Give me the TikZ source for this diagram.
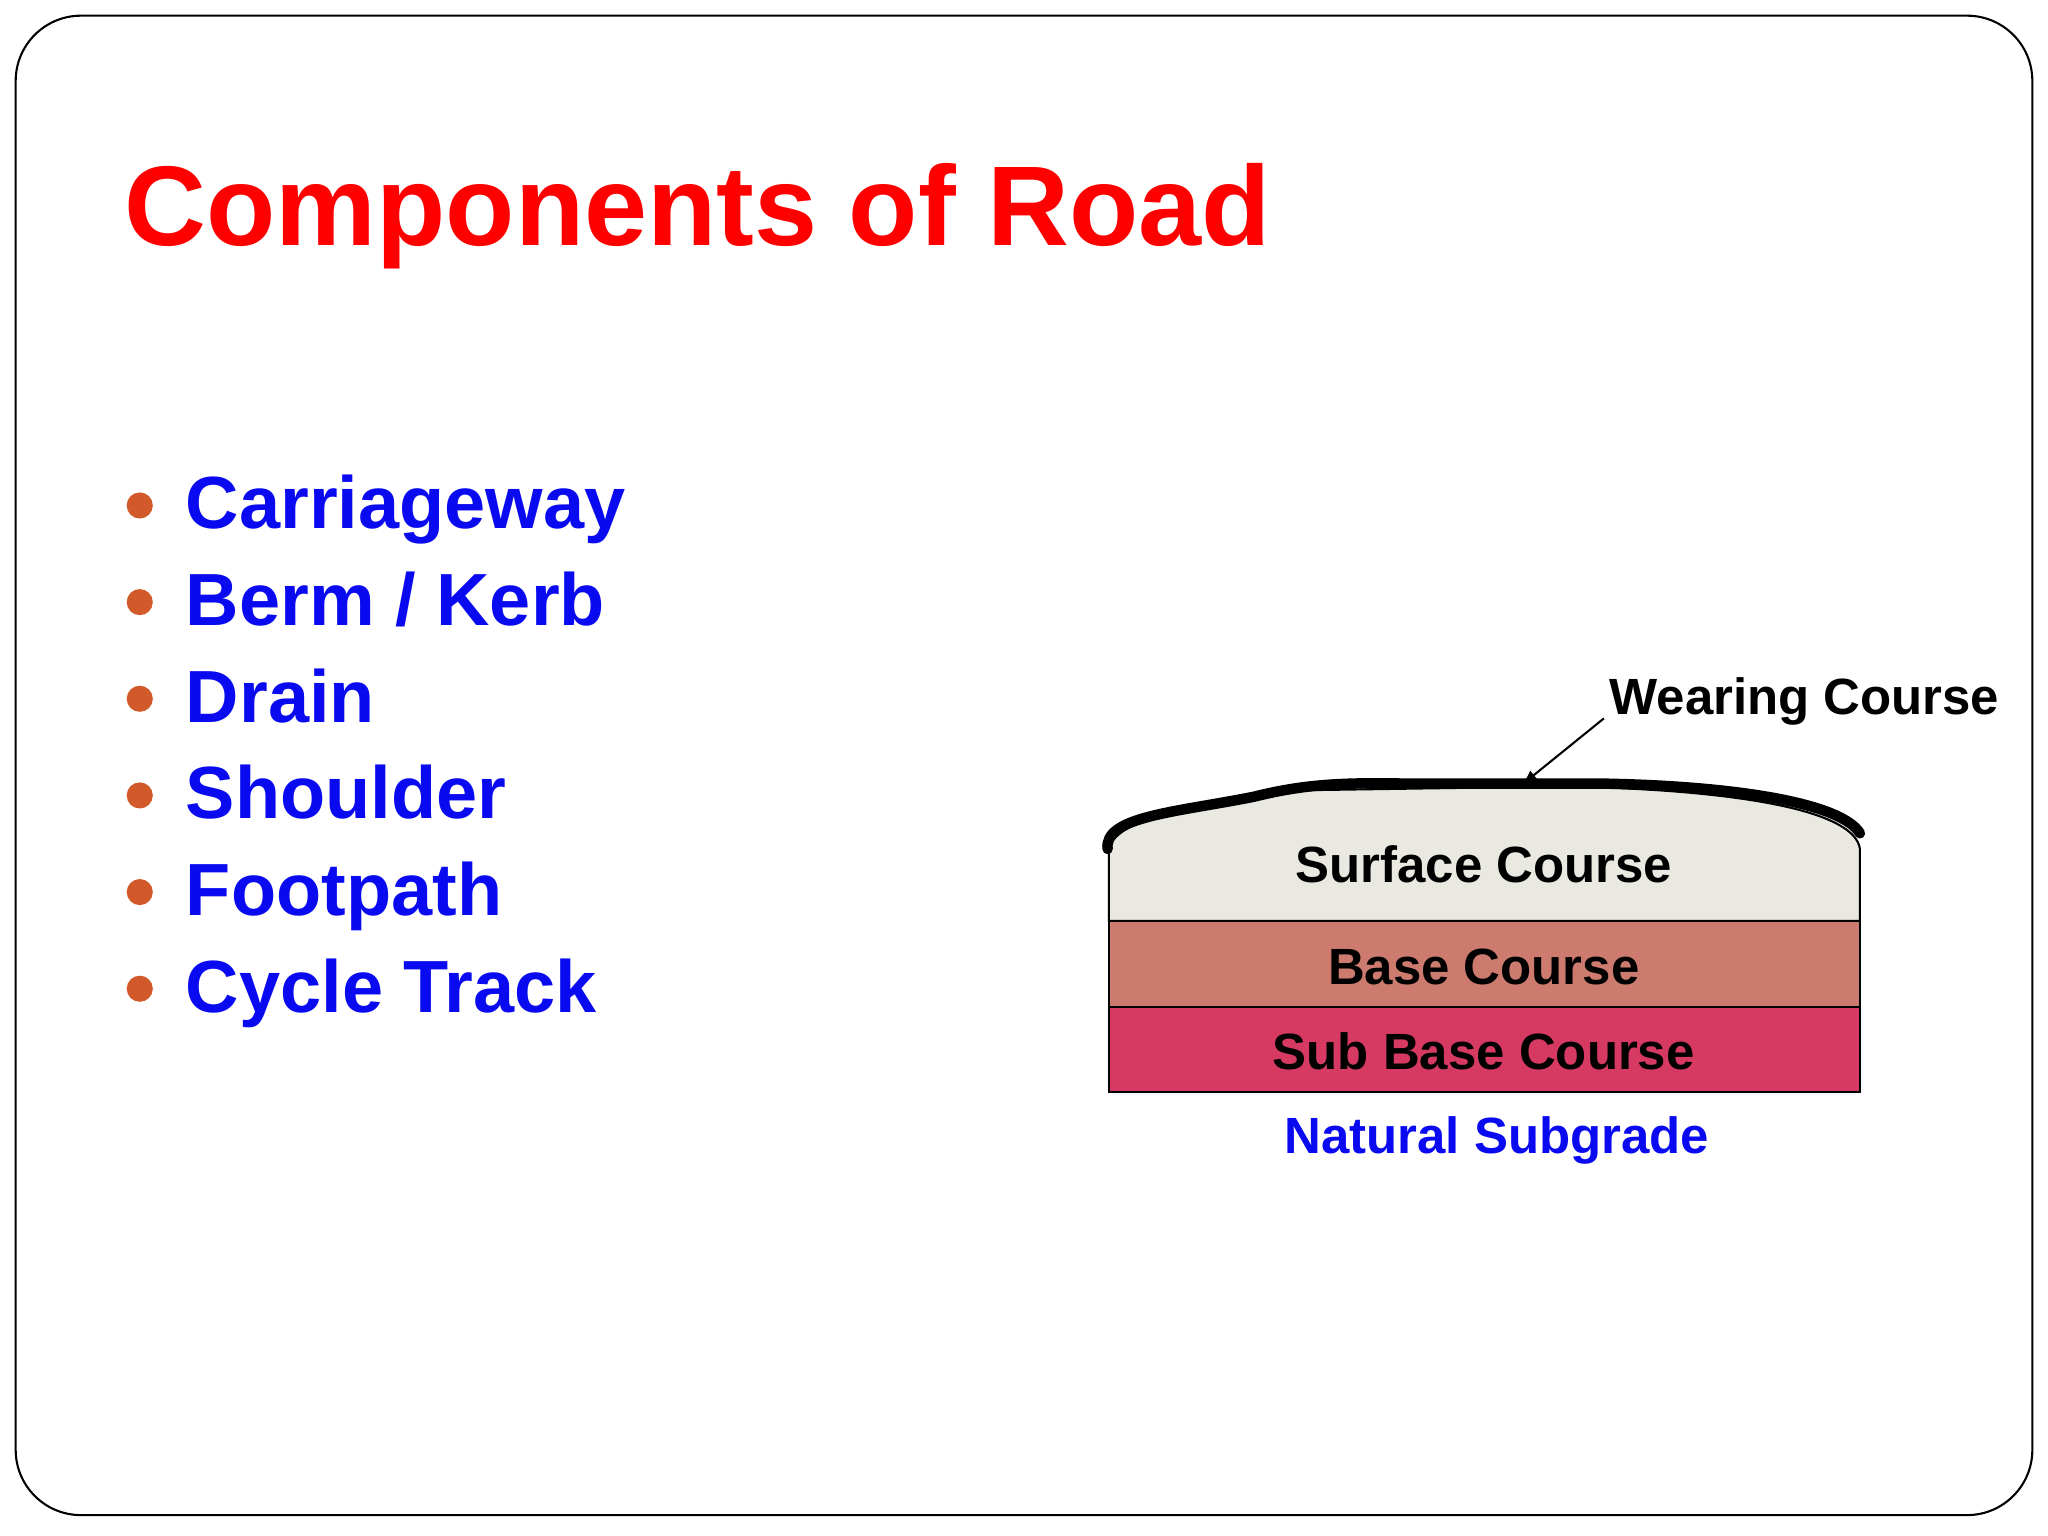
\documentclass[tikz,border=0pt]{standalone}
\usepackage{fontspec}
\setmainfont{Liberation Sans}
\usetikzlibrary{arrows.meta}
\definecolor{ttl}{HTML}{FF0000}
\definecolor{blu}{HTML}{0A0AF0}
\definecolor{bul}{HTML}{D25A2A}
\definecolor{surf}{HTML}{E9E9E1}
\definecolor{base}{HTML}{CD7B6F}
\definecolor{sub}{HTML}{D63A62}
\begin{document}
\begin{tikzpicture}[x=0.5pt,y=-0.5pt,
  item/.style={anchor=base west,text=blu,font=\bfseries\fontsize{28.3}{32}\selectfont,inner sep=0},
  dot/.style={circle,fill=bul,minimum size=10pt,inner sep=0},
  lab/.style={font=\bfseries\fontsize{19.5}{22}\selectfont,inner sep=0}]
\useasboundingbox (0,0) rectangle (1568,1176);
\draw[line width=0.8pt,rounded corners=25pt] (12,12) rectangle (1556,1160);
\node[anchor=base west,text=ttl,font=\bfseries\fontsize{43.4}{50}\selectfont,inner sep=0] (title) at (95,188) {Components of Road};
\foreach \t/\y [count=\i] in {{Carriageway}/387,{Berm / Kerb}/461,{Drain}/535,{Shoulder}/609,{Footpath}/683,{Cycle Track}/757}{
  \node[dot] (d\i) at (107,\y) {};
  \node[item] (b\i) at (142,\y+18) {\t};
}
% layers
\fill[sub] (849,771) rectangle (1424,836);
\draw[line width=0.8pt] (849,771) rectangle (1424,836);
\fill[base] (849,705) rectangle (1424,771);
\draw[line width=0.8pt] (849,705) rectangle (1424,771);
\draw[line width=0.8pt,fill=surf] (849,705) -- (849,650) .. controls (855,625) and (920,615) .. (1000,605)
  -- (1200,602) .. controls (1330,605) and (1420,620) .. (1424,650) -- (1424,705) -- cycle;
\draw[line width=4pt,line cap=round] (848,650) .. controls (845,625) and (900,622) .. (960,610)
  .. controls (1000,600) and (1030,599) .. (1080,600) -- (1230,600)
  .. controls (1330,602) and (1410,615) .. (1424,638);
\node[lab] (sc) at (1136,662) {Surface Course};
\node[lab] (bc) at (1136,740) {Base Course};
\node[lab] (sbc) at (1136,805) {Sub Base Course};
\node[lab,text=blu] (ns) at (1146,873) {Natural Subgrade};
\node[lab,anchor=base west] (wc) at (1232,547) {Wearing Course};
\coordinate (wt) at (1165,601);
\draw[line width=0.8pt,-{Latex[length=6pt]}] (1228,550) -- (wt);
\end{tikzpicture}
\end{document}
